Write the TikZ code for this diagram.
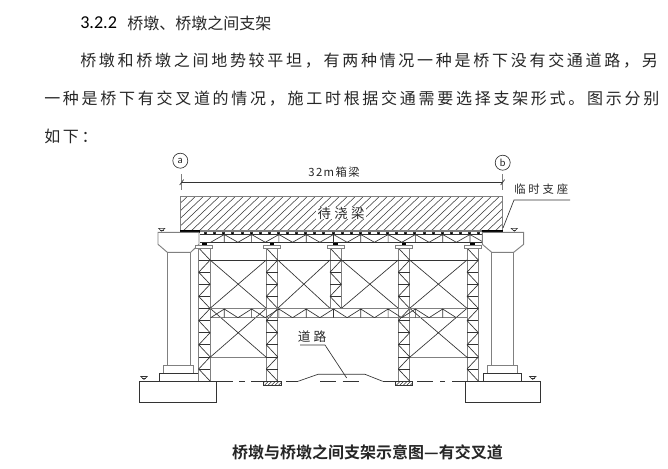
\documentclass[tikz,border=0pt]{standalone}
\usepackage{fontspec}
\setmainfont{Carlito}
\newfontfamily\cjk{Noto Sans CJK SC}[LetterSpace=0]
\newfontfamily\cjkp{Noto Sans CJK SC}[LetterSpace=17]
\newfontfamily\cjks{Noto Sans CJK SC}[LetterSpace=25]
\newfontfamily\cjkt{Noto Sans CJK SC}[LetterSpace=12]
\newfontfamily\cjkb{Noto Sans CJK SC Bold}
\definecolor{ln}{gray}{0.2}
\definecolor{lg}{gray}{0.5}
\tikzset{
  x=0.75pt,y=-0.75pt,
  every node/.style={inner sep=0pt,text=black!85},
  ln/.style={draw=ln,line width=0.5pt},
  lg/.style={draw=lg,line width=0.7pt},
  para/.style={anchor=west,font=\fontsize{12}{12}\cjkp},
  lab/.style={font=\fontsize{8.5}{9}\cjks},
}
\begin{document}
\begin{tikzpicture}
\useasboundingbox (0,0) rectangle (668,468);
% texts
\node[anchor=west,text=black,font=\fontsize{13.6}{14}\selectfont] (h0) at (80,23) {3.2.2};
\node[anchor=west,font=\fontsize{12}{12}\cjk] (h1) at (127,23) {桥墩、桥墩之间支架};
\node[para] (p1) at (80,61) {桥墩和桥墩之间地势较平坦，有两种情况一种是桥下没有交通道路，另};
\node[para] (p2) at (44,99) {一种是桥下有交叉道的情况，施工时根据交通需要选择支架形式。图示分别};
\node[para] (p3) at (44,136) {如下：};
\node[anchor=center,font=\fontsize{12}{12}\cjkb] (cap) at (367.5,452) {桥墩与桥墩之间支架示意图—有交叉道};
% beam
\begin{scope}
\clip (180.3,196.7) rectangle (502.7,230);
\foreach \i in {0,...,46} \draw[draw=ln,line width=0.4pt] (150+\i*8,232) -- (190+\i*8,194);
\end{scope}
\draw[lg] (180.3,196.7) rectangle (502.7,230);
\node[fill=white,inner xsep=1pt,font=\fontsize{10}{10}\cjks] (pour) at (341,213) {待浇梁};
\fill[black] (180,230) rectangle (200,233);
\fill[black] (481.7,230) rectangle (502.7,233);
% upper truss
\draw[lg] (200,231.2) -- (482,231.2);
\draw[ln] (200,234.5) -- (482,234.5) (200,242.3) -- (482,242.3);
\foreach \i in {0,...,30} \fill[ln] ({205.5+\i*9.1-1},232.6) rectangle ++(2,2.2);
\foreach \i in {0,...,9} \draw[ln] ({224.3+\i*27.3},234.5) -- ++(0,7.8) ({224.3+\i*27.3},234.5) -- ++(-13.65,7.8) ({224.3+\i*27.3},234.5) -- ++(13.65,7.8);
% pier caps, columns, footings
\foreach \a/\b/\c/\d/\e/\f/\g/\h/\u/\v in {158/199/167.3/190.7/163.7/193.3/159.3/198.3/139.3/216.7,482.3/523.7/491.7/513.7/487.7/517.7/483.7/521.7/465.7/540.3}{
  \draw[lg,fill=white] (\a,232.3) -- (\b,232.3) -- (\b,244.3) -- (\d,252.3) -- (\c,252.3) -- (\a,244.3) -- cycle;
  \draw[lg] (\c,252.3) -- (\c,365) (\d,252.3) -- (\d,365);
  \draw[lg] (\e,373) -- (\e,365) -- (\f,365) -- (\f,373);
  \draw[ln] (\g,381.3) -- (\g,373) -- (\h,373) -- (\h,381.3);
  \draw[ln] (\u,381.3) rectangle (\v,402);
}
% towers
\foreach \t/\top/\bot in {198.7/248/381,266.3/248/381,398.3/248/381,467/248/381,330/248/308}{
  \draw[lg] (\t,\top) -- (\t,\bot) (\t+11.4,\top) -- (\t+11.4,\bot);
  \pgfmathtruncatemacro{\n}{round((\bot-\top)/12.1)-1}
  \foreach \k in {0,...,\n}{
    \pgfmathsetmacro{\ya}{\top+\k*12.1}
    \pgfmathsetmacro{\yb}{\top+(\k+1)*12.1}
    \draw[ln] (\t,\ya) -- (\t+11.4,\ya);
    \pgfmathparse{int(mod(\k,2))}
    \ifnum\pgfmathresult=0
      \draw[ln] (\t,\ya) -- (\t+11.4,\yb);
    \else
      \draw[ln] (\t+11.4,\ya) -- (\t,\yb);
    \fi
  }
  \draw[lg,fill=white] (\t-3,245.3) rectangle (\t+14,248);
  \draw[black,line width=0.9pt] (\t+5.7,242.5) -- (\t+5.7,245.3);
  \fill[black] (\t+3.4,243.4) rectangle (\t+8,244.6);
}
% upper bracing
\foreach \a/\b in {210.1/266.3,277.7/330,341.4/398.3,409.7/467}{
  \draw[ln] (\a,260) -- (\b,260);
  \draw[ln] (\a,260) -- (\b,308.3) (\b,260) -- (\a,308.3);
}
% lower bracing
\foreach \a/\b in {210.1/266.3,409.7/467}{
  \draw[lg] (\a,357.3) -- (\b,357.3);
  \draw[ln] (\a,308.3) -- (\b,357.3) (\b,308.3) -- (\a,357.3);
}
% middle truss
\draw[lg] (210,308.3) -- (467,308.3);
\draw[lg] (210,317.7) -- (467,317.7);
\foreach \i in {0,...,8} \draw[ln] ({224.3+\i*27.3},309) -- ++(0,8.7) ({224.3+\i*27.3},309) -- ++(-13.65,8.7) ({224.3+\i*27.3},309) -- ++(13.65,8.7);
% ground
\draw[ln,dash pattern=on 12pt off 5pt on 4pt off 5pt] (216.7,381.3) -- (298,381.3);
\draw[ln,dash pattern=on 12pt off 5pt on 4pt off 5pt] (382.7,381.3) -- (465.7,381.3);
\draw[ln,dash pattern=on 12pt off 5pt] (320,381.3) -- (365,381.3);
\draw[ln] (298,381.3) -- (318,374.3) -- (365,374.3) -- (382.7,381.3);
% feet hatch
\foreach \a/\b in {263.3/281.7,395/412.7}{
  \begin{scope}
  \clip (\a,381.3) rectangle (\b,385.5);
  \foreach \i in {0,...,6} \draw[ln,line width=0.35pt] (\a-3+\i*3.5,386) -- (\a+2+\i*3.5,381);
  \end{scope}
  \draw[ln] (\a,381.3) rectangle (\b,385.5);
}
% level marks
\foreach \x/\y in {161.7/231.3,514.3/231.3,144/379.5,532.7/379.5}{
  \draw[ln,line width=0.4pt] (\x-3.2,\y-3) -- (\x+3.2,\y-3) -- (\x,\y) -- cycle;
  \draw[ln,line width=0.4pt] (\x-1.8,\y-1.4) -- (\x+1.8,\y-1.4);
}
% dimension
\node[circle,draw=ln,line width=0.5pt,minimum size=15pt*0.75,font=\fontsize{8}{8}\selectfont] (a) at (180.3,160.7) {a};
\node[circle,draw=ln,line width=0.5pt,minimum size=15pt*0.75,font=\fontsize{8}{8}\selectfont] (b) at (502.7,162.7) {b};
\coordinate (da) at (181.7,182.3);
\coordinate (db) at (502.7,182.3);
\draw[ln] (da) -- (db);
\draw[lg] (181.7,174) -- (181.7,190);
\draw[lg] (502.7,174) -- (502.7,190);
\draw[ln] (179.7,185) -- (183.7,179.5);
\draw[ln] (500.7,185) -- (504.7,179.5);
\node[font=\fontsize{8.5}{9}\cjkt] (len) at (334,172) {32m箱梁};
% temp support
\node[lab,anchor=west] (ts) at (514,189) {临时支座};
\coordinate (t1) at (570,200);
\coordinate (t2) at (514,200);
\coordinate (t3) at (503,228);
\draw[ln] (t1) -- (t2) -- (t3);
% road
\node[font=\fontsize{9.5}{10}\cjks] (road) at (312,337) {道路};
\coordinate (r1) at (300,345);
\coordinate (r2) at (325,345);
\coordinate (r3) at (346.7,378);
\draw[ln] (r1) -- (r2) -- (r3);
\end{tikzpicture}
\end{document}
